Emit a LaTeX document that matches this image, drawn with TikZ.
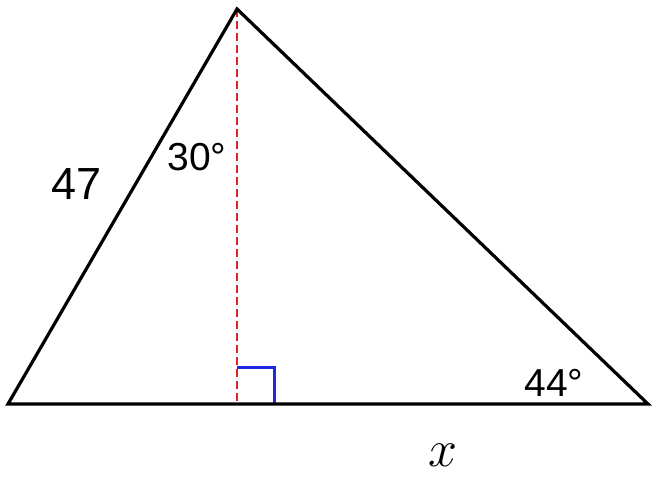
\RequirePackage{fix-cm}
\documentclass[tikz,border=0pt]{standalone}
\usepackage{fontspec}
\setmainfont{Liberation Sans}
\definecolor{altred}{RGB}{225,35,35}
\definecolor{markblue}{RGB}{30,40,225}
\begin{document}
\begin{tikzpicture}[x=1pt,y=-1pt,
  side/.style={line width=3.2pt,line join=miter,black},
  alt/.style={line width=2.6pt,altred,dash pattern=on 8pt off 4pt},
  rmark/.style={line width=3pt,markblue},
  lbl/.style={inner sep=0pt,font=\fontsize{39}{44}\selectfont}]
\useasboundingbox (0,0) rectangle (655,476);
\coordinate (A) at (8,404);
\coordinate (B) at (237,9);
\coordinate (C) at (648,404);
\coordinate (F) at (237,404);
\coordinate (M1) at (237,367);
\coordinate (M2) at (274,367);
\coordinate (M3) at (274,404);
\draw[alt] (B) -- (F);
\draw[rmark] (M1) -- (M2) -- (M3);
\draw[side] (A) -- (B) -- (C) -- cycle;
\node[lbl,font=\fontsize{45}{50}\selectfont] (l47) at (77,184) {47};
\node[lbl] (l30) at (197,157) {30°};
\node[lbl] (l44) at (554,383) {44°};
\node[inner sep=0pt,font=\fontsize{52}{56}\selectfont] (lx) at (443,455) {$x$};
\end{tikzpicture}
\end{document}
